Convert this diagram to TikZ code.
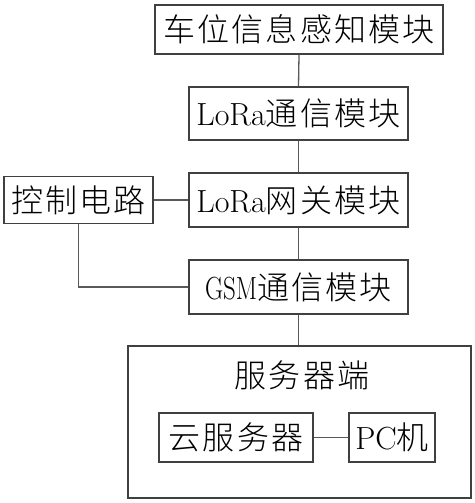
\documentclass[tikz,border=0pt]{standalone}
\usepackage{fontspec}
\newfontfamily\cjk[LetterSpace=7]{Noto Sans CJK SC Light}
\begin{document}
\begin{tikzpicture}[x=1pt,y=1pt,
  box/.style={draw=black!75,line width=1.3pt,inner sep=0pt,font=\fontsize{32}{34}\selectfont},
  wire/.style={draw=black!65,line width=1.3pt}]
\useasboundingbox (0,0) rectangle (474,503);
\node[box,minimum width=288,minimum height=49] (b1) at (299,473.5) {\cjk 车位信息感知模块};
\node[box,minimum width=219,minimum height=53] (b2) at (298.5,389.5) {LoRa{\cjk 通信模块}};
\node[box,minimum width=219,minimum height=54] (b3) at (298.5,303) {LoRa{\cjk 网关模块}};
\node[box,minimum width=149,minimum height=47] (ctrl) at (78.5,303) {\cjk 控制电路};
\node[box,minimum width=219,minimum height=54] (gsm) at (298.5,216) {\scalebox{0.78}[1]{GSM}{\cjk 通信模块}};
\node[box,minimum width=343,minimum height=152] (srv) at (299.5,81) {};
\node[font=\fontsize{32}{34}\selectfont,inner sep=0pt] (srvt) at (302,128) {\cjk 服务器端};
\node[box,minimum width=154,minimum height=49] (cloud) at (236,65.5) {\cjk 云服务器};
\node[box,minimum width=86,minimum height=49] (pc) at (392,65.5) {PC{\cjk 机}};
\draw[wire] (b1.south) -- (b2.north);
\draw[wire] (b2.south) -- (b3.north);
\draw[wire] (ctrl.east) -- (b3.west);
\draw[wire] (b3.south) -- (gsm.north);
\draw[wire] (ctrl.south) |- (gsm.west);
\draw[wire] (gsm.south) -- (gsm.south |- srv.north);
\draw[wire] (cloud.east) -- (pc.west);
\end{tikzpicture}
\end{document}
